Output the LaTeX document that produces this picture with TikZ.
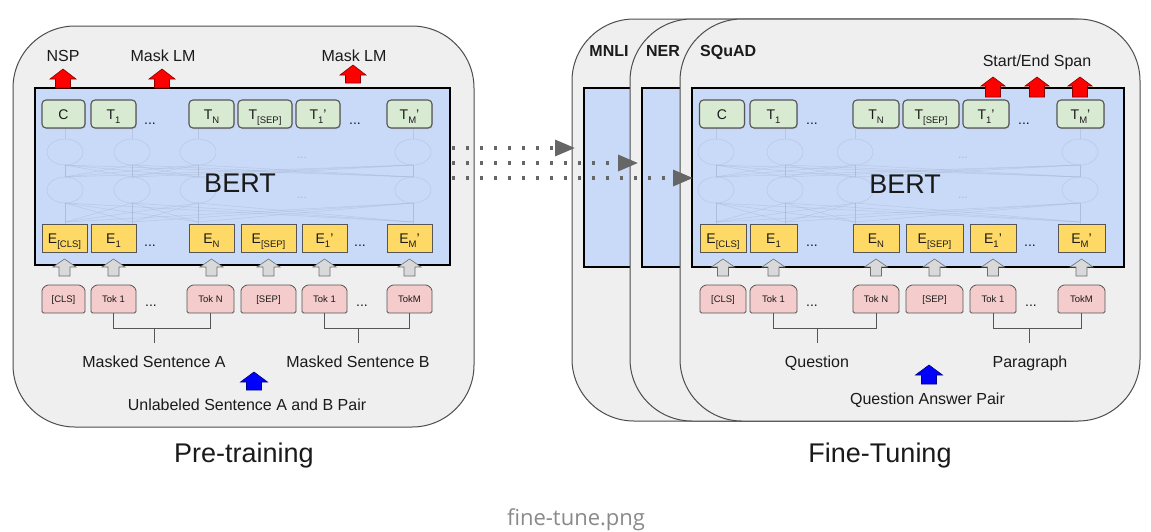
\documentclass[tikz,border=0pt]{standalone}
\usepackage{fontspec}
\setmainfont{Liberation Sans}
\newfontfamily\capfont{Open Sans}
\usetikzlibrary{shadows,arrows.meta}
\definecolor{panelfill}{HTML}{EFEFEF}
\definecolor{panelline}{HTML}{4D4D4D}
\definecolor{bertblue}{HTML}{C9DAF8}
\definecolor{tgreen}{HTML}{D9EAD3}
\definecolor{eyellow}{HTML}{FFD966}
\definecolor{tokpink}{HTML}{F4CCCC}
\definecolor{boxline}{HTML}{555555}
\definecolor{netcol}{HTML}{A9B7D3}
\definecolor{dotgray}{HTML}{666666}
\definecolor{txt}{HTML}{1A1A1A}
\definecolor{capgray}{HTML}{8A8A8A}
\definecolor{arrred}{HTML}{FF0000}
\definecolor{arrredline}{HTML}{8B0000}
\definecolor{arrblue}{HTML}{0000FF}
\definecolor{arrblueline}{HTML}{00007F}
\definecolor{arrgray}{HTML}{D9D9D9}
\definecolor{arrgrayline}{HTML}{6E6E6E}
\newcommand\sbx[1]{\raisebox{-4pt}{\fontsize{9.5}{9.5}\selectfont #1}}
\tikzset{
  panel/.style={draw=panelline, fill=panelfill, line width=1pt, rounded corners=62pt, inner sep=0pt},
  bertbox/.style={draw=black, fill=bertblue, line width=2.5pt, inner sep=0pt, minimum height=178pt},
  tbox/.style={draw=boxline, fill=tgreen, line width=1.1pt, rounded corners=4pt, inner sep=0pt,
    minimum height=28pt, text height=10pt, text depth=0pt, font=\fontsize{14}{14}\selectfont, text=txt,
    drop shadow={shadow xshift=0.8pt, shadow yshift=-1pt, opacity=0.3}},
  ebox/.style={draw=boxline, fill=eyellow, line width=1pt, inner sep=0pt,
    minimum height=28pt, text height=10pt, text depth=0pt, font=\fontsize{14}{14}\selectfont, text=txt},
  tokshape/.style={draw=boxline, fill=tokpink, line width=0.8pt, rounded corners=1.5pt},
  toktext/.style={inner sep=0pt, minimum height=28pt, text height=6.8pt, text depth=0pt,
    font=\fontsize{9.5}{9.5}\selectfont, text=txt},
  dotsl/.style={anchor=base, inner sep=0pt, font=\fontsize{14}{14}\selectfont, text=txt},
  netl/.style={draw=netcol, line width=0.5pt, opacity=0.55},
  netdots/.style={anchor=base, inner sep=0pt, font=\fontsize{12}{12}\selectfont, text=netcol},
  lbl/.style={anchor=base, inner sep=0pt, font=\fontsize{16}{18}\selectfont, text=txt},
  task/.style={anchor=base, inner sep=0pt, font=\fontsize{16}{18}\selectfont\bfseries, text=txt},
  big/.style={anchor=base, inner sep=0pt, font=\fontsize{27}{30}\selectfont, text=txt},
  brk/.style={draw=boxline, line width=1pt},
  dotarr/.style={draw=dotgray, line width=3.3pt, dash pattern=on 3.3pt off 10.7pt,
    -{Triangle[length=20pt,width=16pt]}},
  pics/uparr/.style n args={6}{code={
    \filldraw[fill=#1, draw=#2, line width=0.6pt, line join=miter]
      (-#4/2,0) -- (-#4/2,-#6+#5) -- (-#3/2,-#6+#5) -- (0,-#6) -- (#3/2,-#6+#5) -- (#4/2,-#6+#5) -- (#4/2,0) -- cycle;}},
}
% token box: name, centre x, width, text
\newcommand\tokb[4]{%
  \filldraw[tokshape] (#2-#3/2,313) -- (#2-#3/2,289) -- (#2-#3/2+4.5,285) -- (#2+#3/2-4.5,285)
     -- (#2+#3/2,289) -- (#2+#3/2,313) -- cycle;
  \node[toktext, minimum width=#3pt] (#1) at (#2,299) {#4};
}
\newcommand\hiddennet[3]{%
  \foreach \a in {#1}{
    \draw[netl] (\a,152) ellipse [x radius=18pt, y radius=13pt];
    \draw[netl] (\a,190) ellipse [x radius=18pt, y radius=13pt];
    \draw[netl] (\a,128) -- (\a,139) (\a,165) -- (\a,177) (\a,203) -- (\a,224);
    \foreach \b in {#1}{\draw[netl] (\a,165) -- (\b,177) (\a,222) -- (\b,203);}
  }
  \node[netdots] (#3a) at (#2,158) {...};
  \node[netdots] (#3b) at (#2,198) {...};
}
\begin{document}
\begin{tikzpicture}[x=1pt,y=-1pt]
\useasboundingbox (0,0) rectangle (1151,531);
\fill[white] (0,0) rectangle (1151,531);

% ================= PRE-TRAINING =================
\node[panel, minimum width=461pt, minimum height=401pt] (prepanel) at (243.5,226.5) {};
\node[bertbox, minimum width=415pt, minimum height=177pt] (lbert) at (242.5,176.5) {};
\hiddennet{65,132,198,413}{302}{lnd}
\node[big] (lbertlbl) at (240,192.5) {BERT};

\node[tbox, minimum width=43pt] (lT0) at (63.5,114) {C};
\node[tbox, minimum width=45pt] (lT1) at (113.5,114) {T\sbx{1}};
\node[tbox, minimum width=45pt] (lTN) at (211.5,114) {T\sbx{N}};
\node[tbox, minimum width=54pt] (lTS) at (265,114) {T\sbx{[SEP]}};
\node[tbox, minimum width=44pt] (lT1p) at (318,114) {T\sbx{1}'};
\node[tbox, minimum width=45pt] (lTM) at (409.5,114) {T\sbx{M}'};
\node[dotsl] (ldT1) at (150,124) {...};
\node[dotsl] (ldT2) at (355,124) {...};

\node[ebox, minimum width=45pt] (lE0) at (64.5,238) {E\sbx{[CLS]}};
\node[ebox, minimum width=45pt] (lE1) at (113.5,238) {E\sbx{1}};
\node[ebox, minimum width=45pt] (lEN) at (211.5,238) {E\sbx{N}};
\node[ebox, minimum width=55pt] (lES) at (268.5,238) {E\sbx{[SEP]}};
\node[ebox, minimum width=45pt] (lE1p) at (324.5,238) {E\sbx{1}'};
\node[ebox, minimum width=45pt] (lEM) at (409.5,238) {E\sbx{M}'};
\node[dotsl] (ldE1) at (150,246) {...};
\node[dotsl] (ldE2) at (360,246) {...};

\tokb{lK0}{63.5}{43}{[CLS]}
\tokb{lK1}{113.5}{45}{Tok 1}
\tokb{lKN}{210.5}{47}{Tok N}
\tokb{lKS}{268.5}{55}{[SEP]}
\tokb{lK1p}{324.5}{45}{Tok 1}
\tokb{lKM}{409.5}{45}{TokM}
\node[dotsl] (ldK1) at (151,306) {...};
\node[dotsl] (ldK2) at (362,306) {...};

\coordinate (garr) at (0,276);
\foreach \n in {lE0,lE1,lEN,lES,lE1p,lEM}{
  \pic at (\n.south |- garr) {uparr={arrgray}{arrgrayline}{23}{11}{8}{17}};
}
\pic at (63,88) {uparr={arrred}{arrredline}{26}{15}{10}{19}};
\pic at (162,88) {uparr={arrred}{arrredline}{26}{15}{10}{19}};
\pic at (353,83) {uparr={arrred}{arrredline}{26}{15}{10}{18}};
\node[lbl] (nsp) at (63,61) {NSP};
\node[lbl] (mlm1) at (163,61) {Mask LM};
\node[lbl] (mlm2) at (354,61) {Mask LM};

\draw[brk] (lK1.south) -- ++(0,15) -| (lKN.south);
\draw[brk] (lK1p.south) -- ++(0,15) -| (lKM.south);
\coordinate (lsa) at (154,328);
\coordinate (lsb) at (358,328);
\draw[brk] (lsa) -- ++(0,15);
\draw[brk] (lsb) -- ++(0,15);
\node[lbl] (msa) at (154,367) {Masked Sentence A};
\node[lbl] (msb) at (358,367) {Masked Sentence B};
\pic at (254,390) {uparr={arrblue}{arrblueline}{27}{15}{10}{18}};
\node[lbl] (unl) at (247,410.5) {Unlabeled Sentence A and B Pair};
\node[big] (pretr) at (244,462.5) {Pre-training};

% ================= FINE-TUNING =================
\node[panel, minimum width=558pt, minimum height=402pt] (mnli) at (851,220) {};
\node[bertbox, minimum width=516pt, minimum height=179pt] (mnlibert) at (842,177.5) {};
\node[task] (mnlilbl) at (609,56.5) {MNLI};
\node[panel, minimum width=505pt, minimum height=402pt] (ner) at (882.5,220) {};
\node[bertbox, minimum width=468pt, minimum height=179pt] (nerbert) at (876,177.5) {};
\node[task] (nerlbl) at (663,56.5) {NER};
\node[panel, minimum width=460pt, minimum height=402pt] (squad) at (910,220) {};
\node[bertbox, minimum width=432pt, minimum height=179pt] (rbert) at (908,177.5) {};
\node[task, anchor=base west] (squadlbl) at (700,56.5) {SQuAD};
\hiddennet{716,785,855,1080}{963}{rnd}
\node[big] (rbertlbl) at (905,193) {BERT};

\node[tbox, minimum width=45pt] (rT0) at (722,114) {C};
\node[tbox, minimum width=47pt] (rT1) at (773.5,114) {T\sbx{1}};
\node[tbox, minimum width=46pt] (rTN) at (876,114) {T\sbx{N}};
\node[tbox, minimum width=56pt] (rTS) at (931,114) {T\sbx{[SEP]}};
\node[tbox, minimum width=46pt] (rT1p) at (986,114) {T\sbx{1}'};
\node[tbox, minimum width=47pt] (rTM) at (1080.5,114) {T\sbx{M}'};
\node[dotsl] (rdT1) at (812,124) {...};
\node[dotsl] (rdT2) at (1024,124) {...};

\node[ebox, minimum width=46pt] (rE0) at (723,238) {E\sbx{[CLS]}};
\node[ebox, minimum width=47pt] (rE1) at (773.5,238) {E\sbx{1}};
\node[ebox, minimum width=46pt] (rEN) at (876,238) {E\sbx{N}};
\node[ebox, minimum width=57pt] (rES) at (934.5,238) {E\sbx{[SEP]}};
\node[ebox, minimum width=46pt] (rE1p) at (993,238) {E\sbx{1}'};
\node[ebox, minimum width=47pt] (rEM) at (1081.5,238) {E\sbx{M}'};
\node[dotsl] (rdE1) at (812,246) {...};
\node[dotsl] (rdE2) at (1030,246) {...};

\tokb{rK0}{723}{46}{[CLS]}
\tokb{rK1}{773.5}{47}{Tok 1}
\tokb{rKN}{876}{46}{Tok N}
\tokb{rKS}{934.5}{57}{[SEP]}
\tokb{rK1p}{993}{46}{Tok 1}
\tokb{rKM}{1081.5}{47}{TokM}
\node[dotsl] (rdK1) at (812,306) {...};
\node[dotsl] (rdK2) at (1031,306) {...};

\foreach \n in {rE0,rE1,rEN,rES,rE1p,rEM}{
  \pic at (\n.south |- garr) {uparr={arrgray}{arrgrayline}{23}{11}{8}{17}};
}
\pic at (993,97) {uparr={arrred}{arrredline}{24}{15}{9}{20}};
\pic at (1037,97) {uparr={arrred}{arrredline}{24}{15}{9}{20}};
\pic at (1080,97) {uparr={arrred}{arrredline}{24}{15}{9}{20}};
\node[lbl] (span) at (1037,66.5) {Start/End Span};

\draw[brk] (rK1.south) -- ++(0,15) -| (rKN.south);
\draw[brk] (rK1p.south) -- ++(0,15) -| (rKM.south);
\coordinate (rsa) at (817,328);
\coordinate (rsb) at (1029,328);
\draw[brk] (rsa) -- ++(0,15);
\draw[brk] (rsb) -- ++(0,15);
\node[lbl] (quest) at (817,367) {Question};
\node[lbl] (para) at (1030,367) {Paragraph};
\pic at (929,384) {uparr={arrblue}{arrblueline}{27}{15}{10}{19}};
\node[lbl] (qap) at (927.5,404) {Question Answer Pair};
\node[big] (fine) at (880,462.5) {Fine-Tuning};

% ================= dotted transfer arrows =================
\coordinate (d1s) at (452,148); \coordinate (d1e) at (575,148);
\coordinate (d2s) at (452,163); \coordinate (d2e) at (638,163);
\coordinate (d3s) at (452,178); \coordinate (d3e) at (693,178);
\draw[dotarr] (d1s) -- (d1e);
\draw[dotarr] (d2s) -- (d2e);
\draw[dotarr] (d3s) -- (d3e);

\node[anchor=base, inner sep=0pt, font=\capfont\fontsize{22}{24}\selectfont, text=capgray] (cap) at (576,525) {fine-tune.png};
\end{tikzpicture}
\end{document}
